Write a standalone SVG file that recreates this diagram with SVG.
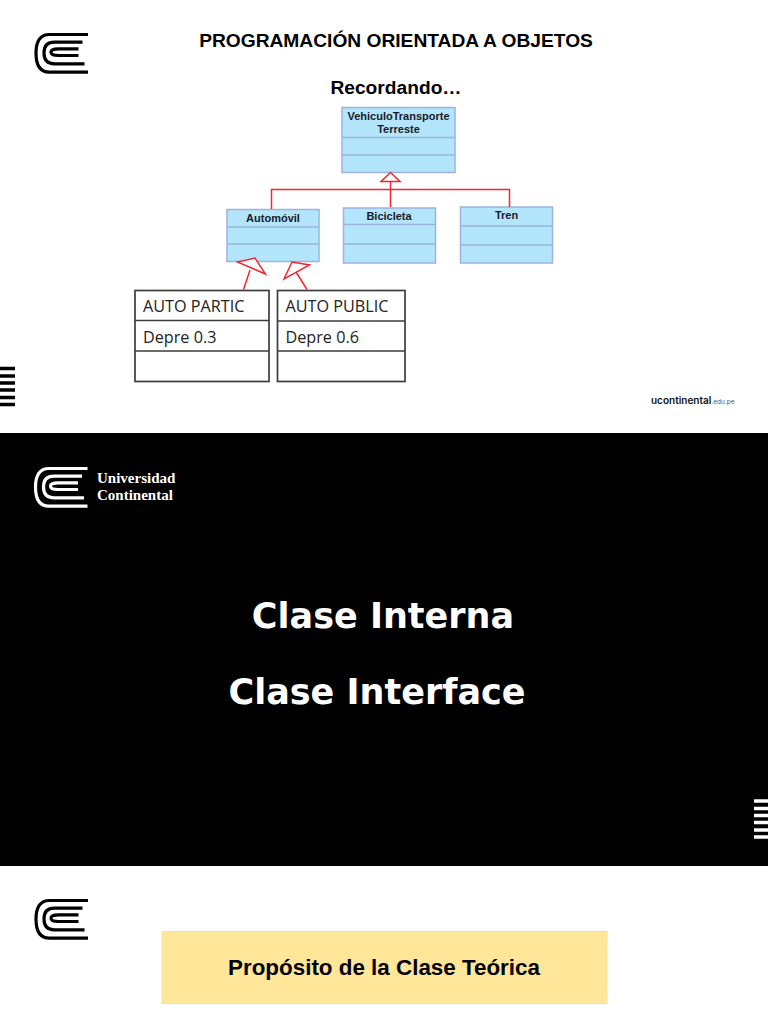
<svg xmlns="http://www.w3.org/2000/svg" width="768" height="1024" viewBox="0 0 768 1024">
<style>
.h{font-family:"Liberation Sans",Arial,sans-serif;font-weight:700;fill:#000}
.big{font-family:"DejaVu Sans",sans-serif;font-weight:700;font-size:35px;fill:#fff;text-anchor:middle}
.b{fill:#b3e5fc;stroke:#9db4dc;stroke-width:1.5}
.bl{stroke:#9db4dc;stroke-width:1.5;fill:none}
.bt{font-family:"Liberation Sans",Arial,sans-serif;font-weight:700;font-size:11px;fill:#1a1a2a;text-anchor:middle}
.w{fill:#fff;stroke:#3c3c3c;stroke-width:1.7}
.wl{stroke:#3c3c3c;stroke-width:1.7;fill:none}
.wt{font-family:"Open Sans","Noto Sans",sans-serif;font-size:16.200px;fill:#222}
.c{fill:none;stroke:#f4262f;stroke-width:1.5}
.tri{fill:#fff;stroke:#f4262f;stroke-width:1.5}
.logo{fill:none;stroke-width:3.2}
.bar{stroke-width:3.6}
</style>
<defs>
<g id="mark">
<path d="M54.500 0H16Q2.500 0 2.500 18.800Q2.500 37.700 16 37.700H54.500"/>
<path d="M49 7.700H21Q10.500 7.700 10.500 18.500Q10.500 29.300 21 29.300H51"/>
<path d="M45 14.300H25Q17.500 14.300 17.500 17.700Q17.500 21 25 21H45"/>
</g>
<g id="bars">
<path d="M0 0H15M0 7.500H15M0 14.500H15M0 21.500H15M0 29H15M0 36H15"/>
</g>
</defs>
<rect width="768" height="1024" fill="#fff"/>
<rect id="black-band" x="0" y="433" width="768" height="433" fill="#000"/>

<g id="slide1-header">
<use href="#mark" x="33.500" y="34.500" class="logo" stroke="#000"/>
<text class="h" x="396" y="47" font-size="19.200" text-anchor="middle">PROGRAMACIÓN ORIENTADA A OBJETOS</text>
<text class="h" x="396" y="94" font-size="19.200" text-anchor="middle">Recordando…</text>
<use href="#bars" x="0" y="368.500" class="bar" stroke="#000"/>
<text x="651" y="404" font-family="Inter,'Liberation Sans',sans-serif" font-size="10" font-weight="600" fill="#111">ucontinental<tspan font-size="6.500" font-weight="400" fill="#555">.edu.pe</tspan></text>
</g>

<g id="VehiculoTransporte">
<rect class="b" x="342" y="107.500" width="113" height="65"/>
<path class="bl" d="M342 137.500H455M342 155H455"/>
<text class="bt" x="398.500" y="120">VehiculoTransporte</text>
<text class="bt" x="398.500" y="133">Terreste</text>
</g>
<g id="Automovil">
<rect class="b" x="227" y="209.500" width="92" height="52"/>
<path class="bl" d="M227 227H319M227 244H319"/>
<text class="bt" x="273" y="222">Automóvil</text>
</g>
<g id="Bicicleta">
<rect class="b" x="343.500" y="208" width="92" height="55"/>
<path class="bl" d="M343.500 224.500H435.500M343.500 244H435.500"/>
<text class="bt" x="389" y="220">Bicicleta</text>
</g>
<g id="Tren">
<rect class="b" x="460.500" y="207" width="92" height="56"/>
<path class="bl" d="M460.500 226H552.500M460.500 245H552.500"/>
<text class="bt" x="506.500" y="219">Tren</text>
</g>
<g id="AutoPartic">
<rect class="w" x="135" y="290.500" width="134" height="91"/>
<path class="wl" d="M135 320.500H269M135 351H269"/>
<text class="wt" x="143" y="312">AUTO PARTIC</text>
<text class="wt" x="143" y="343">Depre 0.3</text>
</g>
<g id="AutoPublic">
<rect class="w" x="277.500" y="290.500" width="127.500" height="91"/>
<path class="wl" d="M277.500 321H405M277.500 351H405"/>
<text class="wt" x="285.500" y="312">AUTO PUBLIC</text>
<text class="wt" x="285.500" y="343">Depre 0.6</text>
</g>

<g id="connectors">
<path class="c" d="M271.500 209V189.500H509.500V207"/>
<path class="c" d="M390.500 207V181"/>
<path class="tri" d="M390.500 172.500L381 181.500H400Z"/>
<path class="c" d="M243.500 289.500L250 270"/>
<path class="tri" d="M237.500 262L255 258L265.500 274Z"/>
<path class="c" d="M307 289.500L296 272"/>
<path class="tri" d="M292 262L309.500 265L284 279Z"/>
</g>

<g id="slide2">
<use href="#mark" x="33" y="468.500" class="logo" stroke="#fff"/>
<text font-family="'Liberation Serif',serif" font-weight="700" font-size="15" fill="#fff"><tspan x="97" y="483">Universidad</tspan><tspan x="97" y="500">Continental</tspan></text>
<text class="big" x="383" y="628">Clase Interna</text>
<text class="big" x="377" y="704">Clase Interface</text>
<use href="#bars" x="754" y="801" class="bar" stroke="#fff"/>
</g>

<g id="slide3">
<use href="#mark" x="33.500" y="900.500" class="logo" stroke="#000"/>
<rect x="162" y="931.500" width="445" height="72" fill="#ffe699" stroke="#f3e2a8"/>
<text class="h" x="384" y="975" font-size="22.400" text-anchor="middle">Propósito de la Clase Teórica</text>
</g>
</svg>
